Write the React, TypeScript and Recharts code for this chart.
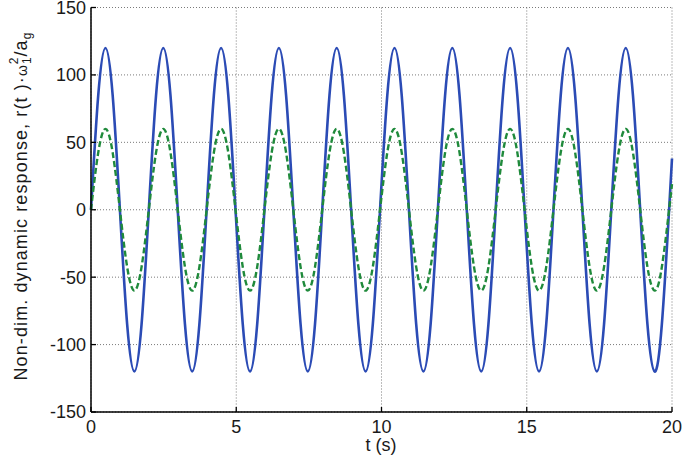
import React from 'react';
import { LineChart, Line, XAxis, YAxis, CartesianGrid } from 'recharts';

// time samples (s)
const tValues = [
  0, 0.249, 0.498, 0.746, 0.995, 1.244, 1.493, 1.741,
  1.99, 2.239, 2.488, 2.736, 2.985, 3.234, 3.483, 3.731,
  3.98, 4.229, 4.478, 4.726, 4.975, 5.224, 5.473, 5.721,
  5.97, 6.219, 6.468, 6.716, 6.965, 7.214, 7.463, 7.711,
  7.96, 8.209, 8.458, 8.706, 8.955, 9.204, 9.453, 9.701,
  9.95, 10.199, 10.448, 10.696, 10.945, 11.194, 11.443, 11.691,
  11.94, 12.189, 12.438, 12.686, 12.935, 13.184, 13.433, 13.681,
  13.93, 14.179, 14.428, 14.676, 14.925, 15.174, 15.423, 15.671,
  15.92, 16.169, 16.418, 16.666, 16.915, 17.164, 17.413, 17.661,
  17.91, 18.159, 18.408, 18.656, 18.905, 19.154, 19.403, 19.651,
  19.9, 20,
];

// solid blue response
const blueValues = [
  0, 84.9, 120, 84.9, 0, -84.9, -120, -84.9,
  0, 84.9, 120, 84.9, 0, -84.9, -120, -84.9,
  0, 84.9, 120, 84.9, 0, -84.9, -120, -84.9,
  0, 84.9, 120, 84.9, 0, -84.9, -120, -84.9,
  0, 84.9, 120, 84.9, 0, -84.9, -120, -84.9,
  0, 84.9, 120, 84.9, 0, -84.9, -120, -84.9,
  0, 84.9, 120, 84.9, 0, -84.9, -120, -84.9,
  0, 84.9, 120, 84.9, 0, -84.9, -120, -84.9,
  0, 84.9, 120, 84.9, 0, -84.9, -120, -84.9,
  0, 84.9, 120, 84.9, 0, -84.9, -120, -84.9,
  0, 38,
];

// dashed green response
const greenValues = [
  0, 42.4, 60, 42.4, 0, -42.4, -60, -42.4,
  0, 42.4, 60, 42.4, 0, -42.4, -60, -42.4,
  0, 42.4, 60, 42.4, 0, -42.4, -60, -42.4,
  0, 42.4, 60, 42.4, 0, -42.4, -60, -42.4,
  0, 42.4, 60, 42.4, 0, -42.4, -60, -42.4,
  0, 42.4, 60, 42.4, 0, -42.4, -60, -42.4,
  0, 42.4, 60, 42.4, 0, -42.4, -60, -42.4,
  0, 42.4, 60, 42.4, 0, -42.4, -60, -42.4,
  0, 42.4, 60, 42.4, 0, -42.4, -60, -42.4,
  0, 42.4, 60, 42.4, 0, -42.4, -60, -42.4,
  0, 19,
];

const xTicks = [0, 5, 10, 15, 20];
const yTicks = [-150, -100, -50, 0, 50, 100, 150];

const data = tValues.map((t, i) => ({ t, full: blueValues[i], half: greenValues[i] }));

const FONT = '"Liberation Sans", Arial, Helvetica, sans-serif';
const TEXT = '#1a1a1a';
const AXIS = '#000';
const TICK_LEN = 5;
const M_BOTTOM = 8;
const M_LEFT = 5;

const BottomTick = (props: any) => {
  const { x, y, payload } = props;
  const axisY = y - M_BOTTOM;
  return (
    <g>
      <line x1={x} x2={x} y1={axisY} y2={axisY - TICK_LEN} stroke={AXIS} strokeWidth={1.3} />
      <text x={x} y={y} dy="0.71em" textAnchor="middle" fontFamily={FONT} fontSize={18} fill={TEXT}>
        {payload.value}
      </text>
    </g>
  );
};

const LeftTick = (props: any) => {
  const { x, y, payload } = props;
  const axisX = x + M_LEFT;
  return (
    <g>
      <line x1={axisX} x2={axisX + TICK_LEN} y1={y} y2={y} stroke={AXIS} strokeWidth={1.3} />
      <text x={x} y={y} dy="0.355em" textAnchor="end" fontFamily={FONT} fontSize={18} fill={TEXT}>
        {payload.value}
      </text>
    </g>
  );
};

const TopTick = (props: any) => {
  const { x, y } = props;
  return <line x1={x} x2={x} y1={y} y2={y + TICK_LEN} stroke={AXIS} strokeWidth={1.3} />;
};

const RightTick = (props: any) => {
  const { x, y } = props;
  return <line x1={x} x2={x - TICK_LEN} y1={y} y2={y} stroke={AXIS} strokeWidth={1.3} />;
};

const YTitle = () => (
  <text
    x={27}
    y={206}
    transform="rotate(-90 27 206)"
    textAnchor="middle"
    fontFamily={FONT}
    fontSize={18}
    letterSpacing={1.1}
    fill={TEXT}
  >
    {'Non-dim. dynamic response, r(t )\u00B7'}
    <tspan fontSize={14}>{'\u03C9'}</tspan>
    <tspan fontSize={12} dy={4}>1</tspan>
    <tspan fontSize={12} dx={-8} dy={-13}>2</tspan>
    <tspan dy={9}>/a</tspan>
    <tspan fontSize={12} dy={4}>g</tspan>
  </text>
);

const XTitle = () => (
  <text x={381} y={451} textAnchor="middle" fontFamily={FONT} fontSize={18} fill={TEXT}>
    t (s)
  </text>
);

const axisLine = { stroke: AXIS, strokeWidth: 1.5 };

export default function App() {
  return (
    <div style={{ position: 'absolute', left: 0, top: 0, width: 685, height: 459, background: '#fff' }}>
      <LineChart
        width={685}
        height={459}
        data={data}
        margin={{ top: 7.5, right: 13, bottom: 17, left: 31 }}
      >
        <CartesianGrid xAxisId="b" yAxisId="l" stroke="#7a7a7a" strokeDasharray="1 2" />
        <XAxis
          xAxisId="b"
          dataKey="t"
          type="number"
          domain={[0, 20]}
          ticks={xTicks}
          interval={0}
          orientation="bottom"
          height={30}
          tickSize={0}
          tickMargin={M_BOTTOM}
          tickLine={false}
          axisLine={axisLine}
          tick={<BottomTick />}
          label={<XTitle />}
        />
        <XAxis
          xAxisId="top"
          type="number"
          domain={[0, 20]}
          ticks={xTicks}
          interval={0}
          orientation="top"
          height={0}
          tickSize={0}
          tickMargin={0}
          tickLine={false}
          axisLine={axisLine}
          tick={<TopTick />}
        />
        <YAxis
          yAxisId="l"
          type="number"
          domain={[-150, 150]}
          ticks={yTicks}
          interval={0}
          width={60}
          tickSize={0}
          tickMargin={M_LEFT}
          tickLine={false}
          axisLine={axisLine}
          tick={<LeftTick />}
          label={<YTitle />}
        />
        <YAxis
          yAxisId="r"
          type="number"
          orientation="right"
          domain={[-150, 150]}
          ticks={yTicks}
          interval={0}
          width={0}
          tickSize={0}
          tickMargin={0}
          tickLine={false}
          axisLine={axisLine}
          tick={<RightTick />}
        />
        <Line
          xAxisId="b"
          yAxisId="l"
          dataKey="full"
          type="natural"
          stroke="#2B4BB5"
          strokeWidth={2.6}
          dot={false}
          isAnimationActive={false}
        />
        <Line
          xAxisId="b"
          yAxisId="l"
          dataKey="half"
          type="natural"
          stroke="#1F8A3B"
          strokeWidth={2.4}
          strokeDasharray="6 3"
          dot={false}
          isAnimationActive={false}
        />
      </LineChart>
    </div>
  );
}
